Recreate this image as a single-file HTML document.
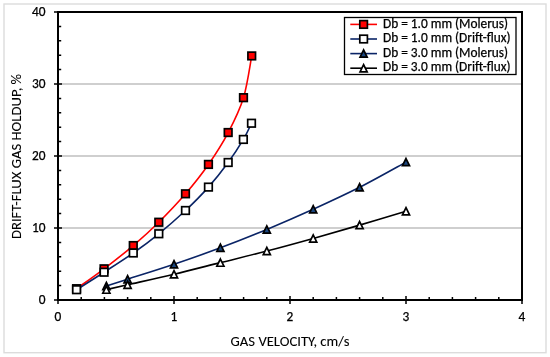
<!DOCTYPE html>
<html><head><meta charset="utf-8"><title>Drift-flux gas holdup chart</title>
<style>html,body{margin:0;padding:0;background:#fff;width:550px;height:357px;overflow:hidden}svg{display:block}</style>
</head><body>
<svg width="550" height="357" viewBox="0 0 550 357"><rect x="0" y="0" width="550" height="357" fill="#fff"/><rect x="4" y="4" width="542" height="348.7" fill="none" stroke="#dcdcdc" stroke-width="1.4"/><line x1="59" x2="521" y1="228.0" y2="228.0" stroke="#a0a0a0" stroke-width="1.2"/><line x1="59" x2="521" y1="156.0" y2="156.0" stroke="#a0a0a0" stroke-width="1.2"/><line x1="59" x2="521" y1="84.0" y2="84.0" stroke="#a0a0a0" stroke-width="1.2"/><path d="M76.56 288.70 C81.14 285.38 94.60 276.01 104.05 268.82 C113.51 261.64 124.16 253.33 133.28 245.57 C142.41 237.80 150.10 230.87 158.80 222.24 C167.50 213.61 177.21 203.44 185.48 193.80 C193.76 184.16 201.34 174.64 208.45 164.42 C215.57 154.21 222.33 143.65 228.17 132.53 C234.01 121.40 239.56 110.45 243.48 97.68 C247.41 84.91 250.35 62.88 251.72 55.92" fill="none" stroke="#ff0000" stroke-width="1.60" stroke-linejoin="round"/><g stroke="#000" stroke-width="1.70" stroke-linejoin="miter"><rect x="72.76" y="284.90" width="7.60" height="7.60" fill="#ff0000"/><rect x="100.25" y="265.02" width="7.60" height="7.60" fill="#ff0000"/><rect x="129.48" y="241.77" width="7.60" height="7.60" fill="#ff0000"/><rect x="155.00" y="218.44" width="7.60" height="7.60" fill="#ff0000"/><rect x="181.68" y="190.00" width="7.60" height="7.60" fill="#ff0000"/><rect x="204.65" y="160.62" width="7.60" height="7.60" fill="#ff0000"/><rect x="224.37" y="128.73" width="7.60" height="7.60" fill="#ff0000"/><rect x="239.68" y="93.88" width="7.60" height="7.60" fill="#ff0000"/><rect x="247.92" y="52.12" width="7.60" height="7.60" fill="#ff0000"/></g><path d="M76.56 289.70 C81.14 286.79 94.60 278.33 104.05 272.21 C113.51 266.09 124.16 259.39 133.28 252.98 C142.41 246.58 150.10 240.84 158.80 233.76 C167.50 226.68 177.21 218.28 185.48 210.50 C193.76 202.73 201.34 195.11 208.45 187.10 C215.57 179.10 222.35 170.42 228.17 162.48 C233.99 154.54 239.48 145.98 243.37 139.44 C247.25 132.90 250.13 125.94 251.49 123.24" fill="none" stroke="#0a2466" stroke-width="1.60" stroke-linejoin="round"/><g stroke="#000" stroke-width="1.70"><rect x="72.76" y="285.90" width="7.60" height="7.60" fill="#fff"/><rect x="100.25" y="268.41" width="7.60" height="7.60" fill="#fff"/><rect x="129.48" y="249.18" width="7.60" height="7.60" fill="#fff"/><rect x="155.00" y="229.96" width="7.60" height="7.60" fill="#fff"/><rect x="181.68" y="206.70" width="7.60" height="7.60" fill="#fff"/><rect x="204.65" y="183.30" width="7.60" height="7.60" fill="#fff"/><rect x="224.37" y="158.68" width="7.60" height="7.60" fill="#fff"/><rect x="239.57" y="135.64" width="7.60" height="7.60" fill="#fff"/><rect x="247.69" y="119.44" width="7.60" height="7.60" fill="#fff"/></g><path d="M106.37 286.03 C109.91 284.89 116.33 282.82 127.60 279.19 C138.87 275.57 158.53 269.52 174.00 264.29 C189.47 259.06 204.93 253.61 220.40 247.80 C235.87 241.99 251.33 235.86 266.80 229.44 C282.27 223.02 297.73 216.30 313.20 209.28 C328.67 202.26 344.13 195.18 359.60 187.32 C375.07 179.46 398.27 166.32 406.00 162.12" fill="none" stroke="#0a2466" stroke-width="1.60" stroke-linejoin="round"/><g stroke="#000" stroke-width="1.70" stroke-linejoin="miter"><path d="M106.37 282.43L109.92 289.63L102.82 289.63Z" fill="#1b4780"/><path d="M127.60 275.59L131.15 282.79L124.05 282.79Z" fill="#1b4780"/><path d="M174.00 260.69L177.55 267.89L170.45 267.89Z" fill="#1b4780"/><path d="M220.40 244.20L223.95 251.40L216.85 251.40Z" fill="#1b4780"/><path d="M266.80 225.84L270.35 233.04L263.25 233.04Z" fill="#1b4780"/><path d="M313.20 205.68L316.75 212.88L309.65 212.88Z" fill="#1b4780"/><path d="M359.60 183.72L363.15 190.92L356.05 190.92Z" fill="#1b4780"/><path d="M406.00 158.52L409.55 165.72L402.45 165.72Z" fill="#1b4780"/></g><path d="M106.37 289.63 C109.91 288.83 116.33 287.38 127.60 284.81 C138.87 282.24 158.53 277.92 174.00 274.22 C189.47 270.53 204.93 266.50 220.40 262.63 C235.87 258.77 251.33 255.07 266.80 251.04 C282.27 247.01 297.73 242.76 313.20 238.44 C328.67 234.12 344.13 229.66 359.60 225.12 C375.07 220.58 398.27 213.54 406.00 211.22" fill="none" stroke="#000" stroke-width="1.60" stroke-linejoin="round"/><g stroke="#000" stroke-width="1.70" stroke-linejoin="miter"><path d="M106.37 286.03L109.92 293.23L102.82 293.23Z" fill="#fff"/><path d="M127.60 281.21L131.15 288.41L124.05 288.41Z" fill="#fff"/><path d="M174.00 270.62L177.55 277.82L170.45 277.82Z" fill="#fff"/><path d="M220.40 259.03L223.95 266.23L216.85 266.23Z" fill="#fff"/><path d="M266.80 247.44L270.35 254.64L263.25 254.64Z" fill="#fff"/><path d="M313.20 234.84L316.75 242.04L309.65 242.04Z" fill="#fff"/><path d="M359.60 221.52L363.15 228.72L356.05 228.72Z" fill="#fff"/><path d="M406.00 207.62L409.55 214.82L402.45 214.82Z" fill="#fff"/></g><path d="M58 12H522V300H58Z" fill="none" stroke="#000" stroke-width="2"/><path d="M58.0 296V304 M174.0 296V304 M290.0 296V304 M406.0 296V304 M522.0 296V304 M81.2 300V297 M104.4 300V297 M127.6 300V297 M150.8 300V297 M197.2 300V297 M220.4 300V297 M243.6 300V297 M266.8 300V297 M313.2 300V297 M336.4 300V297 M359.6 300V297 M382.8 300V297 M429.2 300V297 M452.4 300V297 M475.6 300V297 M498.8 300V297 M54 300.0H62 M54 228.0H62 M54 156.0H62 M54 84.0H62 M54 12.0H62 M58 285.6H61.2 M58 271.2H61.2 M58 256.8H61.2 M58 242.4H61.2 M58 213.6H61.2 M58 199.2H61.2 M58 184.8H61.2 M58 170.4H61.2 M58 141.6H61.2 M58 127.2H61.2 M58 112.8H61.2 M58 98.4H61.2 M58 69.6H61.2 M58 55.2H61.2 M58 40.8H61.2 M58 26.4H61.2" stroke="#000" stroke-width="1.5" fill="none"/><g style="font-family:Carlito,'Liberation Sans',sans-serif;stroke:#000;stroke-width:0.25px;font-size:13.33px" fill="#000"><text x="45.5" y="303.9" text-anchor="end">0</text><text x="45.5" y="231.9" text-anchor="end" textLength="13.52" lengthAdjust="spacingAndGlyphs">10</text><text x="45.5" y="159.9" text-anchor="end" textLength="13.52" lengthAdjust="spacingAndGlyphs">20</text><text x="45.5" y="87.9" text-anchor="end" textLength="13.52" lengthAdjust="spacingAndGlyphs">30</text><text x="45.5" y="15.9" text-anchor="end" textLength="13.52" lengthAdjust="spacingAndGlyphs">40</text><text x="58.0" y="321.4" text-anchor="middle">0</text><text x="174.0" y="321.4" text-anchor="middle">1</text><text x="290.0" y="321.4" text-anchor="middle">2</text><text x="406.0" y="321.4" text-anchor="middle">3</text><text x="522.0" y="321.4" text-anchor="middle">4</text></g><text x="290" y="346.2" text-anchor="middle" style="font-family:Carlito,'Liberation Sans',sans-serif;stroke:#000;stroke-width:0.25px;font-size:14.67px;stroke-width:0.08px" fill="#000" textLength="118.77" lengthAdjust="spacingAndGlyphs">GAS VELOCITY, cm/s</text><text transform="translate(21.4 156.5) rotate(-90)" x="0" y="0" text-anchor="middle" style="font-family:Carlito,'Liberation Sans',sans-serif;stroke:#000;stroke-width:0.25px;font-size:14.67px;stroke-width:0.08px" fill="#000" textLength="165.19" lengthAdjust="spacingAndGlyphs">DRIFT-FLUX GAS HOLDUP, %</text><rect x="344.5" y="17.5" width="171.5" height="57" fill="#fff" stroke="#000" stroke-width="1.3"/><line x1="350.3" x2="377" y1="24.40" y2="24.40" stroke="#ff0000" stroke-width="1.60"/><g stroke="#000" stroke-width="1.70"><rect x="359.80" y="20.60" width="7.60" height="7.60" fill="#ff0000"/></g><text x="383" y="28.10" style="font-family:Carlito,'Liberation Sans',sans-serif;stroke:#000;stroke-width:0.25px;font-size:13.33px" fill="#000" textLength="125.13" lengthAdjust="spacingAndGlyphs">Db = 1.0 mm (Molerus)</text><line x1="350.3" x2="377" y1="39.00" y2="39.00" stroke="#0a2466" stroke-width="1.60"/><g stroke="#000" stroke-width="1.70"><rect x="359.80" y="35.20" width="7.60" height="7.60" fill="#fff"/></g><text x="383" y="42.20" style="font-family:Carlito,'Liberation Sans',sans-serif;stroke:#000;stroke-width:0.25px;font-size:13.33px" fill="#000" textLength="127.64" lengthAdjust="spacingAndGlyphs">Db = 1.0 mm (Drift-flux)</text><line x1="350.3" x2="377" y1="53.60" y2="53.60" stroke="#0a2466" stroke-width="1.60"/><g stroke="#000" stroke-width="1.70"><path d="M363.60 50.00L367.15 57.20L360.05 57.20Z" fill="#1b4780"/></g><text x="383" y="57.10" style="font-family:Carlito,'Liberation Sans',sans-serif;stroke:#000;stroke-width:0.25px;font-size:13.33px" fill="#000" textLength="125.13" lengthAdjust="spacingAndGlyphs">Db = 3.0 mm (Molerus)</text><line x1="350.3" x2="377" y1="68.20" y2="68.20" stroke="#000" stroke-width="1.60"/><g stroke="#000" stroke-width="1.70"><path d="M363.60 64.60L367.15 71.80L360.05 71.80Z" fill="#fff"/></g><text x="383" y="71.00" style="font-family:Carlito,'Liberation Sans',sans-serif;stroke:#000;stroke-width:0.25px;font-size:13.33px" fill="#000" textLength="127.64" lengthAdjust="spacingAndGlyphs">Db = 3.0 mm (Drift-flux)</text></svg>
</body></html>
